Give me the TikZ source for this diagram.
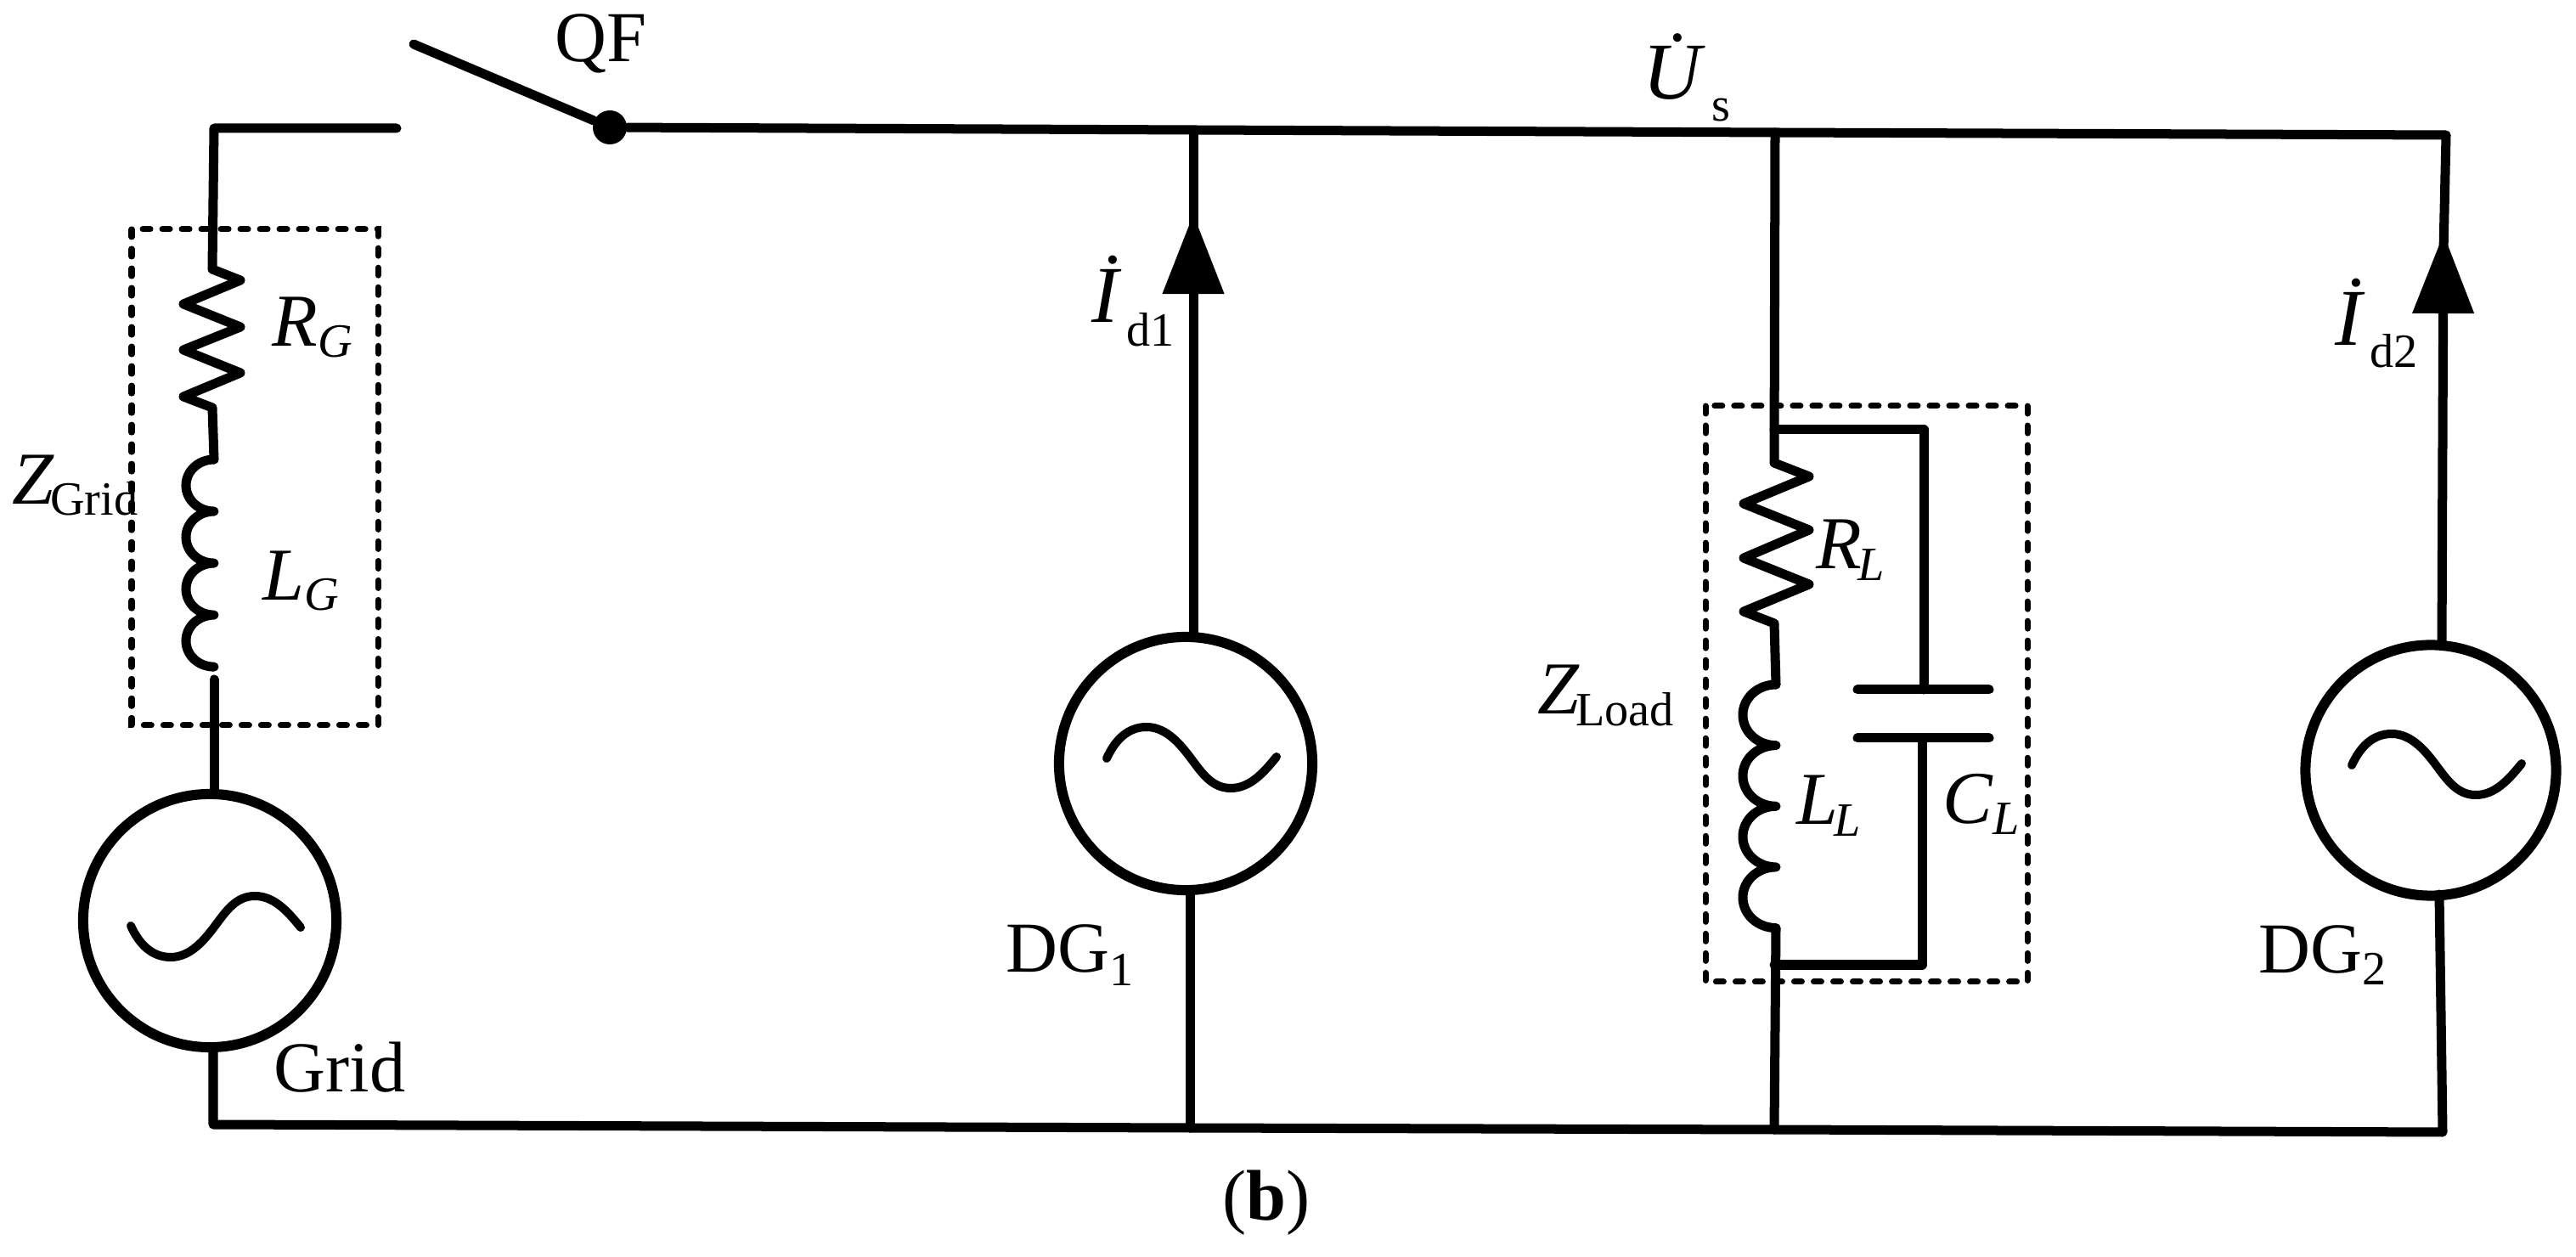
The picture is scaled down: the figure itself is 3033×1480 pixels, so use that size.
\documentclass[tikz,border=0pt]{standalone}
\usepackage{fontspec}
\setmainfont{Liberation Serif}
\usetikzlibrary{arrows.meta, calc}
\newcommand{\low}[2]{\raisebox{-#1cm}{\fontsize{16}{16}\selectfont #2}}
\tikzset{
    wire/.style={
        line width=0.11cm,
        line cap=round,
        line join=round
    },
    currentarrow/.style={
        wire,
        line cap=butt,
        -{Triangle[length=0.94cm,width=0.70cm]}
    },
    source/.style={
        circle,
        draw=black,
        line width=0.12cm,
        minimum size=2.98cm,
        inner sep=0pt
    },
    wave/.style={
        line width=0.10cm,
        line cap=round
    },
    contact/.style={
        circle,
        fill=black,
        minimum size=0.40cm,
        inner sep=0pt
    },
    zonebox/.style={
        line width=0.07cm,
        line cap=round,
        dash pattern=on 0.09cm off 0.14cm
    },
    lab/.style={
        inner sep=0pt,
        anchor=base west,
        font=\fontsize{24}{24}\selectfont
    },
    bigital/.style={
        lab,
        font=\fontsize{25}{25}\selectfont\itshape
    },
    phasor/.style={
        lab,
        font=\fontsize{27}{27}\selectfont
    }
}

\begin{document}
\begin{tikzpicture}[x=0.01cm,y=-0.01cm]

    \useasboundingbox (0,0) rectangle (3033,1480);

    % Sources
    \node[source] (grid) at (247,1084) {};
    \node[source] (dg1) at (1396,899) {};
    \node[source,minimum size=2.95cm] (dg2) at (2862,907) {};

    % Sine waves
    \foreach \src/\sgn in {grid/1,dg1/-1,dg2/-1} {
        \draw[wave] ($(\src)+(-93,\sgn*6)$) .. controls +(10,\sgn*22) and +(-22,0) .. ($(\src)+(-46,\sgn*43)$)
            .. controls +(24,0) and +(-12,\sgn*16) .. ($(\src)+(7,\sgn*5)$)
            .. controls +(12,\sgn*-16) and +(-22,0) .. ($(\src)+(53,\sgn*-29)$)
            .. controls +(22,0) and +(-16,\sgn*-20) .. ($(\src)+(107,\sgn*8)$);
    }

    % Switch
    \node[contact] (qf) at (718,150) {};
    \coordinate (swfree) at (487,52);
    \coordinate (swopen) at (467,151);
    \coordinate (gridcorner) at (252,151);
    \draw[wire] (swfree) -- (qf);

    % Top bus
    \coordinate (topd1) at (1405,153);
    \coordinate (topl) at (2090,156);
    \coordinate (topd2) at (2880,159);
    \draw[wire] (qf) -- (topd1) -- (topl) -- (topd2);

    % Bottom bus
    \coordinate (botg) at (251,1324);
    \coordinate (botd1) at (1401,1328);
    \coordinate (botl) at (2089,1330);
    \coordinate (botd2) at (2876,1333);
    \draw[wire] (grid.south -| botg) -- (botg) -- (botd1) -- (botl) -- (botd2) -- (2872,1053);

    % Grid branch
    \coordinate (rg) at (250,317);
    \coordinate (lg) at (252,541);
    \coordinate (gridin) at (252,800);
    \draw[wire] (swopen) -- (gridcorner) -- (rg);
    \draw[wire] (rg) -- ++(33,13) -- ++(-67,28) -- ++(67,27) -- ++(-67,27) -- ++(67,27) -- ++(-67,28) -- ++(34,13) -- (lg);
    \draw[wire] (lg) \foreach \k in {1,...,4} {arc[start angle=90,end angle=270,x radius=0.33cm,y radius=0.305cm]};
    \draw[wire] (gridin) -- (252,930);

    % Load branch
    \coordinate (rl) at (2089,545);
    \coordinate (ll) at (2091,806);
    \coordinate (lbot) at (2091,1093);
    \coordinate (ctop) at (2265,506);
    \coordinate (cbot) at (2263,1136);
    \draw[wire] (topl) -- (rl);
    \draw[wire] (rl) -- ++(41,16) -- ++(-77,32) -- ++(77,31) -- ++(-77,33) -- ++(77,31) -- ++(-77,32) -- ++(36,14) -- (ll);
    \draw[wire] (ll) \foreach \k in {1,...,4} {arc[start angle=90,end angle=270,x radius=0.39cm,y radius=0.358cm]};
    \draw[wire] (lbot) -- (botl);
    \draw[wire] (2089,506) -- (ctop) -- (2265,812);
    \draw[wire] (2187,812) -- (2342,812);
    \draw[wire] (2187,869) -- (2342,869);
    \draw[wire] (2263,869) -- (cbot) -- (2089,1136);

    % DG branches
    \coordinate (tip1) at (1405,252);
    \coordinate (tip2) at (2877,275);
    \draw[currentarrow] (1405,750) -- (tip1);
    \draw[wire,line cap=butt] ($(tip1)+(0,20)$) -- (topd1);
    \draw[wire] (1401,1048) -- (botd1);
    \draw[currentarrow] (2875,762) -- (tip2);
    \draw[wire,line cap=butt] ($(tip2)+(0,20)$) -- (topd2);

    % Dashed boxes
    \draw[zonebox] (155,270) rectangle (445,854);
    \draw[zonebox] (2008,478) rectangle (2387,1156);

    % Labels
    \node[lab] (qflabel) at (653,73) {QF};
    \node[phasor] (us) at (1934,117) {\textit{\.U}\kern-0.15cm\low{0.25}{s}};
    \node[phasor] (id1) at (1285,380) {\textit{\.I}\kern0.05cm\low{0.27}{d1}};
    \node[phasor] (id2) at (2749,407) {\textit{\.I}\kern0.05cm\low{0.25}{d2}};
    \node[bigital] (rglabel) at (320,408) {R\low{0.13}{G}};
    \node[bigital] (lglabel) at (309,707) {L\low{0.12}{G}};
    \node[lab] (zgrid) at (14,594) {\fontsize{25}{25}\selectfont\textit{Z}\kern-0.05cm\low{0.13}{Grid}};
    \node[lab] (zload) at (1810,841) {\fontsize{25}{25}\selectfont\textit{Z}\kern-0.05cm\low{0.13}{Load}};
    \node[bigital] (rllabel) at (2138,670) {R\kern-0.05cm\low{0.14}{L}};
    \node[bigital] (lllabel) at (2115,971) {L\kern-0.05cm\low{0.13}{L}};
    \node[bigital] (cllabel) at (2287,970) {C\low{0.12}{L}};
    \node[lab] (gridlabel) at (322,1286) {Grid};
    \node[lab] (dg1label) at (1184,1145) {DG\low{0.15}{1}};
    \node[lab] (dg2label) at (2659,1146) {DG\low{0.13}{2}};
    \node[lab] (caption) at (1439,1436) {(\textbf{b})};

\end{tikzpicture}
\end{document}
